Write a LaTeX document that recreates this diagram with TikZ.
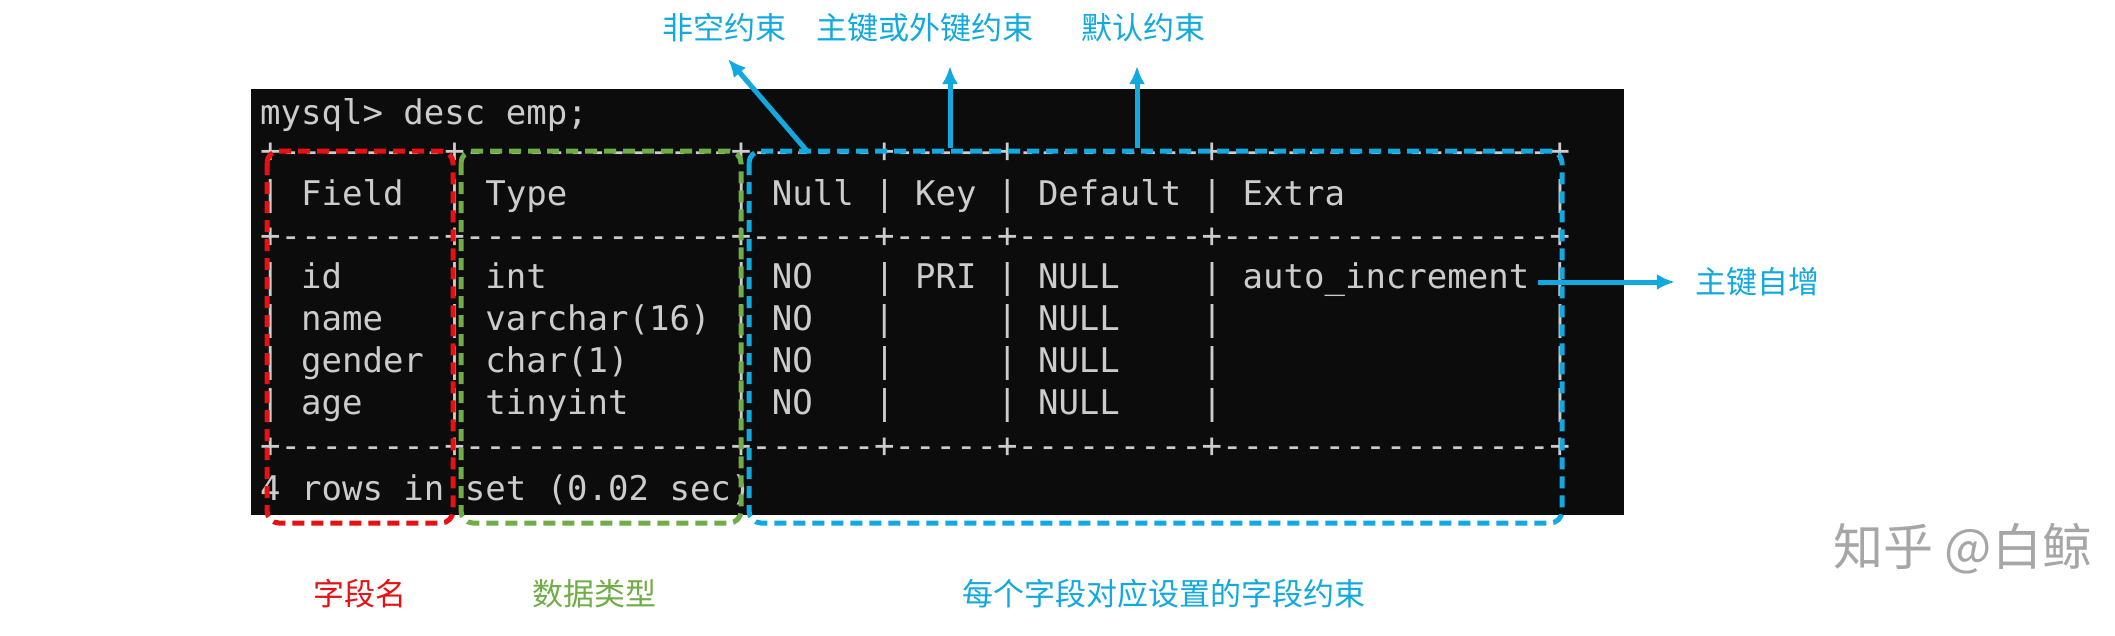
\documentclass[tikz,border=0pt]{standalone}
\usepackage{fontspec}
\setmonofont{DejaVu Sans Mono}
\newfontfamily\cjk{Noto Sans CJK SC}
\usetikzlibrary{arrows.meta}
\definecolor{myred}{HTML}{E81010}
\definecolor{mygreen}{HTML}{70AD47}
\definecolor{myblue}{HTML}{12A8E0}
\definecolor{term}{HTML}{0C0C0C}
\definecolor{termtxt}{HTML}{CCCCCC}
\begin{document}
\begin{tikzpicture}[x=1pt,y=-1pt,
  line/.style={anchor=west,inner sep=0,text=termtxt,font=\fontsize{34}{34}\ttfamily},
  box/.style={dashed,dash pattern=on 12pt off 7pt,line width=5pt,rounded corners=12pt},
  lab/.style={font=\fontsize{31}{31}\cjk,inner sep=0},
  arr/.style={myblue,line width=5pt,-{Latex[length=18pt,width=16pt]}}]
\useasboundingbox (0,0) rectangle (2115,635);
\fill[term] (251,89) rectangle (1624,515);
\node[line] (l0) at (260,115) {mysql>~desc~emp;};
\node[line] (l1) at (260,153) {+--------+-------------+------+-----+---------+----------------+};
\node[line] (l2) at (260,196) {|~Field~~|~Type~~~~~~~~|~Null~|~Key~|~Default~|~Extra~~~~~~~~~~|};
\node[line] (l3) at (260,238) {+--------+-------------+------+-----+---------+----------------+};
\node[line] (l4) at (260,280) {|~id~~~~~|~int~~~~~~~~~|~NO~~~|~PRI~|~NULL~~~~|~auto\_increment~|};
\node[line] (l5) at (260,322) {|~name~~~|~varchar(16)~|~NO~~~|~~~~~|~NULL~~~~|~~~~~~~~~~~~~~~~|};
\node[line] (l6) at (260,364) {|~gender~|~char(1)~~~~~|~NO~~~|~~~~~|~NULL~~~~|~~~~~~~~~~~~~~~~|};
\node[line] (l7) at (260,406) {|~age~~~~|~tinyint~~~~~|~NO~~~|~~~~~|~NULL~~~~|~~~~~~~~~~~~~~~~|};
\node[line] (l8) at (260,448) {+--------+-------------+------+-----+---------+----------------+};
\node[line] (l9) at (260,490) {4~rows~in~set~(0.02~sec)};
\draw[box,myred] (267,151) rectangle (453,523);
\draw[box,mygreen] (461,151) rectangle (741,523);
\draw[box,myblue] (749,151) rectangle (1562,523);
\node[lab,text=myblue] (t1) at (724,28) {非空约束};
\node[lab,text=myblue] (t2) at (925,28) {主键或外键约束};
\node[lab,text=myblue] (t3) at (1143,28) {默认约束};
\node[lab,text=myblue] (t4) at (1757,282) {主键自增};
\coordinate (a1) at (807,151);
\coordinate (a2) at (950,148);
\coordinate (a3) at (1137,148);
\coordinate (a4) at (1538,282);
\draw[arr] (a1) -- (728,59);
\draw[arr] (a2) -- (950,66);
\draw[arr] (a3) -- (1137,66);
\draw[arr] (a4) -- ([xshift=-20pt]t4.west);
\node[lab,text=myred] (b1) at (360,594) {字段名};
\node[lab,text=mygreen] (b2) at (594,594) {数据类型};
\node[lab,text=myblue] (b3) at (1164,594) {每个字段对应设置的字段约束};
\node[font=\fontsize{50}{50}\cjk,text=gray!70,inner sep=0] (w) at (1963,549) {知乎 @白鲸};
\end{tikzpicture}
\end{document}
